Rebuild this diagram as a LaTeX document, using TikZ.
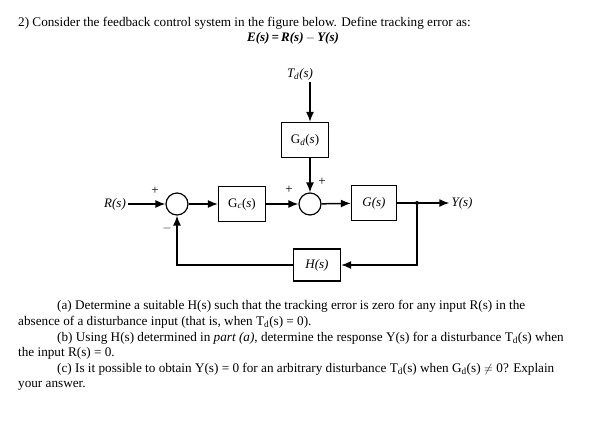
\documentclass[tikz,border=0pt]{standalone}
\usepackage{fontspec}
\setmainfont{Liberation Serif}
\usetikzlibrary{arrows.meta}

\tikzset{
  blk/.style={draw,line width=1.2pt,minimum width=47pt,minimum height=35pt,inner sep=1pt,font=\fontsize{13}{15}\selectfont},
  sumpt/.style={draw,line width=1.2pt,circle,minimum size=22pt,inner sep=0pt},
  arr/.style={line width=1.5pt,-{Latex[length=10pt,width=8pt]}},
  lbl/.style={inner sep=2pt,font=\fontsize{13}{15}\selectfont},
  txt/.style={anchor=base west,inner sep=0pt,font=\fontsize{13.2}{15}\selectfont},
  sgn/.style={inner sep=0pt,font=\fontsize{13}{15}\selectfont}
}

\begin{document}
\begin{tikzpicture}[x=1pt,y=-1pt]
\useasboundingbox (0,0) rectangle (595,432);

\node[txt] (q) at (18,26) {2) Consider the feedback control system in the figure below. Define tracking error as:};
\node[lbl] (e) at (293,38) {\bfseries\itshape E(s)\,=\,R(s)\,$-$\,Y(s)};

\node[lbl] (td) at (300,74) {\itshape T\textsubscript{d}(s)};
\node[blk] (gd) at (305,140) {G\textsubscript{\itshape d}(\textit{s})};

\node[lbl] (r) at (115,204) {\itshape R(s)};
\node[sumpt] (s1) at (177,204) {};
\node[blk] (gc) at (242,204) {G\textsubscript{\itshape c}(\textit{s})};
\node[sumpt] (s2) at (310,204) {};
\node[blk,minimum width=45pt] (g) at (374,203) {\itshape G(s)};
\coordinate (br) at (417,203);
\node[lbl] (y) at (462,203) {\itshape Y(s)};
\node[blk,minimum height=32pt] (h) at (317,265) {\itshape H(s)};

\draw[arr] (r) -- (s1);
\draw[arr] (s1) -- (gc);
\draw[arr] (gc) -- (s2);
\draw[arr] (s2) -- (g);
\draw[arr] (g.east) -- (y);
\draw[arr] (td.south -| s2) -- (gd.north -| s2);
\draw[arr] (gd.south -| s2) -- (s2);
\draw[arr] (br) |- (h);
\draw[arr] (h) -| (s1);
\fill (br) circle (2);

\node[sgn] (p1) at (155,191) {+};
\node[sgn] (m1) at (167,228) {$-$};
\node[sgn] (p2) at (289,190) {+};
\node[sgn] (p3) at (322,182) {+};

\node[txt] (a1) at (57,309) {(a) Determine a suitable H(s) such that the tracking error is zero for any input R(s) in the};
\node[txt] (a2) at (18,325) {absence of a disturbance input (that is, when T\textsubscript{d}(s) = 0).};
\node[txt] (b1) at (57,341) {(b) Using H(s) determined in \textit{part (a)}, determine the response Y(s) for a disturbance T\textsubscript{d}(s) when};
\node[txt] (b2) at (18,356) {the input R(s) = 0.};
\node[txt] (c1) at (57,372) {(c) Is it possible to obtain Y(s) = 0 for an arbitrary disturbance T\textsubscript{d}(s) when G\textsubscript{d}(s) $\neq$ 0? Explain};
\node[txt] (c2) at (18,387) {your answer.};
\end{tikzpicture}
\end{document}
